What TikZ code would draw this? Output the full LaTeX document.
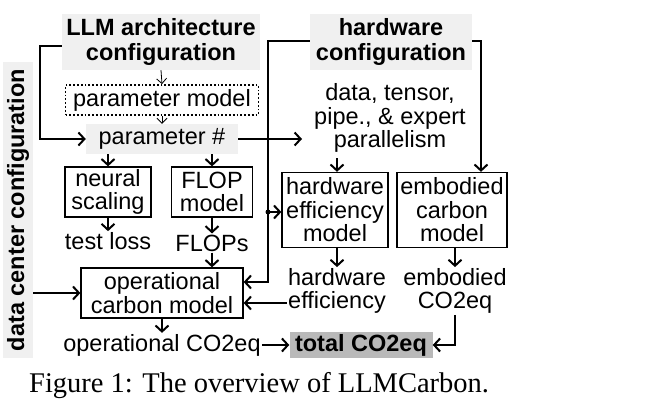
\documentclass[tikz,border=0pt]{standalone}
\usepackage{fontspec}
\setmainfont{Liberation Sans}
\newfontfamily\capfont{Liberation Serif}
\usetikzlibrary{arrows.meta}
\begin{document}
\begin{tikzpicture}[x=1pt,y=-1pt,
  txt/.style={font=\fontsize{23.5}{23.5}\selectfont, align=center, inner sep=1pt},
  btxt/.style={font=\fontsize{23.5}{25}\selectfont\bfseries, align=center},
  gbox/.style={fill=gray!12, inner sep=0pt},
  wbox/.style={draw, line width=1.3pt, inner sep=0pt},
  conn/.style={line width=2pt, -{Straight Barb[length=6pt,width=13pt]}},
  thin/.style={line width=0.8pt, -{Straight Barb[length=5pt,width=10pt]}}]
\useasboundingbox (0,0) rectangle (659,420);
% boxes
\node[gbox, minimum width=198, minimum height=56] (llm) at (161,42) {};
\node[btxt] at (llm) {LLM architecture\\configuration};
\node[gbox, minimum width=162, minimum height=56] (hw) at (391,42) {};
\node[btxt] at (hw) {hardware\\configuration};
\node[gbox, minimum width=30, minimum height=296] (dc) at (18,210) {};
\node[btxt, rotate=90] at (dc) {data center configuration};
\node[draw, dotted, line width=1.8pt, minimum width=193, minimum height=30, txt] (pm) at (162,100) {parameter model};
\node[gbox, minimum width=152, minimum height=30, txt] (pn) at (162,139) {parameter \#};
\node[wbox, minimum width=86, minimum height=50, txt] (ns) at (108,192) {neural\\scaling};
\node[wbox, minimum width=81, minimum height=50, txt] (fm) at (212,192) {FLOP\\model};
\node[txt] (tl) at (108,241) {test loss};
\node[txt] (fl) at (212,243) {FLOPs};
\node[wbox, minimum width=162, minimum height=50, txt] (oc) at (162,293) {operational\\carbon model};
\node[wbox, minimum width=106, minimum height=75, txt] (he) at (335,210) {hardware\\efficiency\\model};
\node[wbox, minimum width=110, minimum height=75, txt] (ec) at (452,210) {embodied\\carbon\\model};
\node[txt] (par) at (390,118) {data, tensor,\\pipe., \& expert\\parallelism};
\node[txt] (het) at (337,291) {hardware\\efficiency};
\node[txt] (ect) at (455,291) {embodied\\CO2eq};
\node[txt] (oct) at (162,345) {operational CO2eq};
\node[fill=gray!55, minimum width=143, minimum height=26, inner sep=0pt] (tot) at (361,345) {};
\node[btxt] at (tot) {total CO2eq};
\node[font=\capfont\fontsize{28.5}{30}\selectfont, anchor=west, inner sep=0pt] (cap) at (29,386) {Figure 1: The overview of LLMCarbon.};
% connectors
\coordinate (hwj) at (268,212);
\draw[conn] (llm.west |- 0,46) -| (40,139) -- (pn.west);
\draw[thin] (llm.south) -- (pm.north);
\draw[thin] (pm.south) -- (pn.north);
\draw[conn] (pn.south -| ns) -- (ns.north);
\draw[conn] (pn.south -| fm) -- (fm.north);
\draw[conn] (ns.south) -- (tl.north);
\draw[conn] (fm.south) -- (fl.north);
\draw[conn] (fl.south) -- (oc.north -| fl);
\draw[conn] (pn.east) -- (302,139);
\draw[conn] (337,158) -- (he.north -| 337,0);
\draw[conn] (hw.west |- 0,41) -| (hwj) |- (oc.east |- 0,282);
\fill (hwj) circle (2.5pt);
\draw[conn] (hwj) -- (he.west |- hwj);
\draw[conn] (hw.east |- 0,41) -| (ec.north -| 481,0);
\draw[conn] (he.south -| 337,0) -- (het.north);
\draw[conn] (ec.south -| 455,0) -- (ect.north);
\draw[conn] (het.west |- 0,303) -- (oc.east |- 0,303);
\draw[conn] (dc.east |- oc) -- (oc.west);
\draw[conn] (oc.south) -- (oct.north);
\draw[conn] (oct.east) -- (tot.west);
\draw[conn] (ect.south) |- (tot.east);
\end{tikzpicture}
\end{document}
